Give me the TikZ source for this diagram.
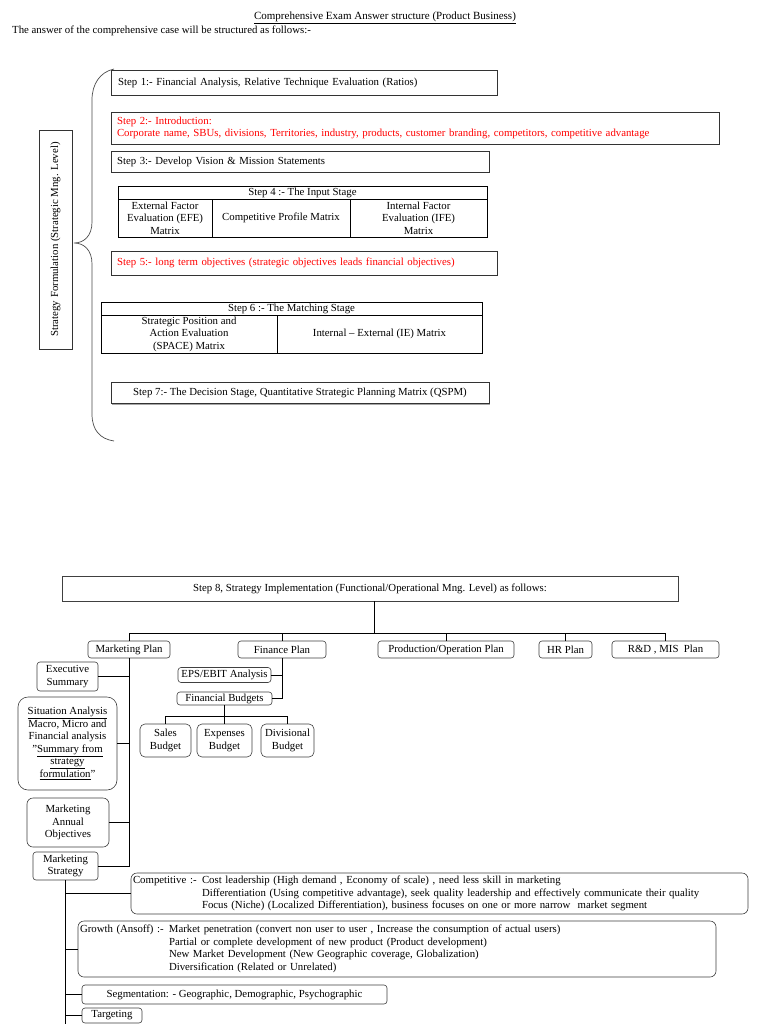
\documentclass[tikz,border=0pt]{standalone}
\usepackage{fontspec}
\setmainfont{Liberation Serif}
\usetikzlibrary{shadows}
\newcommand{\myul}[1]{\smash{\underline{#1}}\strut}
\begin{document}
\begin{tikzpicture}[x=1pt,y=-1pt,
  font=\fontsize{10.8}{12.5}\selectfont,
  sqbox/.style={draw=black!80, line width=0.6pt, inner sep=0pt, fill=white,
    drop shadow={shadow xshift=1.2pt, shadow yshift=-1.2pt, fill=black!35, opacity=1}},
  cell/.style={draw=black, line width=0.6pt, inner sep=0pt, align=center, fill=white},
  rbox/.style={draw=black!75, line width=0.6pt, rounded corners=3pt, inner sep=0pt, align=center, fill=white},
  conn/.style={draw=black, line width=0.7pt},
  redtxt/.style={text=red}]
\fill[white] (0,0) rectangle (768,1024);
\useasboundingbox (0,0) rectangle (768,1024);

% ---------- header ----------
\node[font=\fontsize{11}{13}\selectfont] (title) at (385,18) {\underline{Comprehensive Exam Answer structure (Product Business)}};
\node[anchor=west, inner sep=0pt] (intro) at (12,31) {The answer of the comprehensive case will be structured as follows:-};

% ---------- brace ----------
\draw[black!70, line width=0.7pt] (114,69) .. controls (100,72) and (92,84) .. (92,100) -- (92,222)
  .. controls (92,236) and (84,243) .. (74,243)
  .. controls (84,243) and (92,250) .. (92,264) -- (92,414)
  .. controls (92,430) and (100,439) .. (114,441);

\node[sqbox, rotate=90, minimum width=219pt, minimum height=33pt] (lab) at (55.5,239.5)
  {Strategy Formulation (Strategic Mng. Level)};

% ---------- steps 1-7 ----------
\node[sqbox, minimum width=386pt, minimum height=25pt, inner xsep=7pt, text width=372pt, align=left] (s1) at (304,82.5)
  {Step 1:- Financial Analysis, Relative Technique Evaluation (Ratios)};
\node[sqbox, redtxt, minimum width=608pt, minimum height=32pt, inner xsep=6pt, text width=596pt, align=left] (s2) at (415,128)
  {Step 2:- Introduction:\\Corporate name, SBUs, divisions, Territories, industry, products, customer branding, competitors, competitive advantage};
\node[sqbox, minimum width=378pt, minimum height=21pt, inner xsep=6pt, text width=366pt, align=left] (s3) at (300,161.5)
  {Step 3:- Develop Vision \& Mission Statements};

\node[cell, minimum width=369pt, minimum height=13pt] (h4) at (302.5,192.5) {Step 4 :- The Input Stage};
\node[cell, minimum width=94pt, minimum height=38pt] (c41) at (165,218) {External Factor\\Evaluation (EFE)\\Matrix};
\node[cell, minimum width=138pt, minimum height=38pt] (c42) at (281,218) {Competitive Profile Matrix};
\node[cell, minimum width=137pt, minimum height=38pt] (c43) at (418.5,218) {Internal Factor\\Evaluation (IFE)\\Matrix};

\node[sqbox, redtxt, minimum width=386pt, minimum height=24pt, inner xsep=6pt, text width=374pt, align=left] (s5) at (304,263)
  {Step 5:- long term objectives (strategic objectives leads financial objectives)};

\node[cell, minimum width=381pt, minimum height=13pt] (h6) at (291.5,308.5) {Step 6 :- The Matching Stage};
\node[cell, minimum width=176pt, minimum height=38pt] (c61) at (189,334) {Strategic Position and\\Action Evaluation\\(SPACE) Matrix};
\node[cell, minimum width=205pt, minimum height=38pt] (c62) at (379.5,334) {Internal -- External (IE) Matrix};

\node[sqbox, minimum width=378pt, minimum height=21pt, align=center] (s7) at (300,393)
  {Step 7:- The Decision Stage, Quantitative Strategic Planning Matrix (QSPM)};

% ---------- step 8 ----------
\node[draw=black!75, line width=0.6pt, fill=white, minimum width=616pt, minimum height=25pt, inner sep=0pt] (s8) at (370,588.5)
  {Step 8, Strategy Implementation (Functional/Operational Mng. Level) as follows:};
\coordinate (bus) at (374,633);
\draw[conn] ([xshift=4pt]s8.south) -- (bus);

\node[rbox, minimum width=82pt, minimum height=17pt] (mp) at (129,649.5) {Marketing Plan};
\node[rbox, minimum width=88pt, minimum height=17pt] (fp) at (282,649.5) {Finance Plan};
\node[rbox, minimum width=136pt, minimum height=17pt] (pp) at (446,649.5) {Production/Operation Plan};
\node[rbox, minimum width=53pt, minimum height=17pt] (hr) at (565.5,649.5) {HR Plan};
\node[rbox, minimum width=107pt, minimum height=17pt] (rd) at (665.5,649.5) {R\&D , MIS\ \ Plan};
\foreach \n in {mp,fp,pp,hr,rd} \draw[conn] (\n.north) |- (bus);

% ---------- marketing plan column ----------
\node[rbox, minimum width=61pt, minimum height=29pt] (es) at (67.5,676.5) {Executive\\Summary};
\node[rbox, rounded corners=10pt, minimum width=99pt, minimum height=93pt] (sa) at (67.5,743.5)
  {\myul{Situation Analysis}\\Macro, Micro and\\Financial analysis\\"\myul{Summary from}\\\myul{strategy}\\\myul{formulation}"};
\node[rbox, rounded corners=6pt, minimum width=82pt, minimum height=49pt] (mao) at (68,822.5) {Marketing\\Annual\\Objectives};
\node[rbox, minimum width=65pt, minimum height=28pt] (ms) at (65.5,866) {Marketing\\Strategy};
\foreach \n in {es,sa,mao,ms} \draw[conn] (\n.east) -| (mp.south);

% ---------- finance plan column ----------
\node[rbox, minimum width=93pt, minimum height=15pt] (eps) at (224.5,675) {EPS/EBIT Analysis};
\node[rbox, minimum width=95pt, minimum height=13pt] (fb) at (224.5,698.5) {Financial Budgets};
\draw[conn] (eps.east) -| (fp.south);
\draw[conn] (fb.east) -| (fp.south);
\coordinate (bbus) at (224.5,716);
\draw[conn] (fb.south) -- (bbus);
\node[rbox, rounded corners=5pt, minimum width=51pt, minimum height=33pt] (sb) at (165.5,740.5) {Sales\\Budget};
\node[rbox, rounded corners=5pt, minimum width=55pt, minimum height=33pt] (eb) at (224.5,740.5) {Expenses\\Budget};
\node[rbox, rounded corners=5pt, minimum width=53pt, minimum height=33pt] (db) at (287.5,740.5) {Divisional\\Budget};
\foreach \n in {sb,eb,db} \draw[conn] (\n.north) |- (bbus);

% ---------- marketing strategy ----------
\node[rbox, rounded corners=6pt, minimum width=617pt, minimum height=41pt, inner xsep=2pt, text width=613pt, align=left] (comp) at (439.5,893.5)
  {\makebox[69pt][l]{Competitive :-}Cost leadership (High demand , Economy of scale) , need less skill in marketing\\
   \hspace*{69pt}Differentiation (Using competitive advantage), seek quality leadership and effectively communicate their quality\\
   \hspace*{69pt}Focus (Niche) (Localized Differentiation), business focuses on one or more narrow\ \ market segment};
\node[rbox, rounded corners=6pt, minimum width=638pt, minimum height=56pt, inner xsep=2pt, text width=634pt, align=left] (grow) at (397,949)
  {\makebox[89pt][l]{Growth (Ansoff) :-}Market penetration (convert non user to user , Increase the consumption of actual users)\\
   \hspace*{89pt}Partial or complete development of new product (Product development)\\
   \hspace*{89pt}New Market Development (New Geographic coverage, Globalization)\\
   \hspace*{89pt}Diversification (Related or Unrelated)};
\node[rbox, minimum width=305pt, minimum height=19pt] (seg) at (234.5,994.5) {Segmentation: - Geographic, Demographic, Psychographic};
\node[rbox, minimum width=60pt, minimum height=15pt] (targ) at (112,1015.5) {Targeting};
\coordinate (msend) at (65.5,1024);
\draw[conn] (ms.south) -- (msend);
\foreach \n in {comp,grow,seg,targ} \draw[conn] (\n.west) -| (ms.south);
\end{tikzpicture}
\end{document}
